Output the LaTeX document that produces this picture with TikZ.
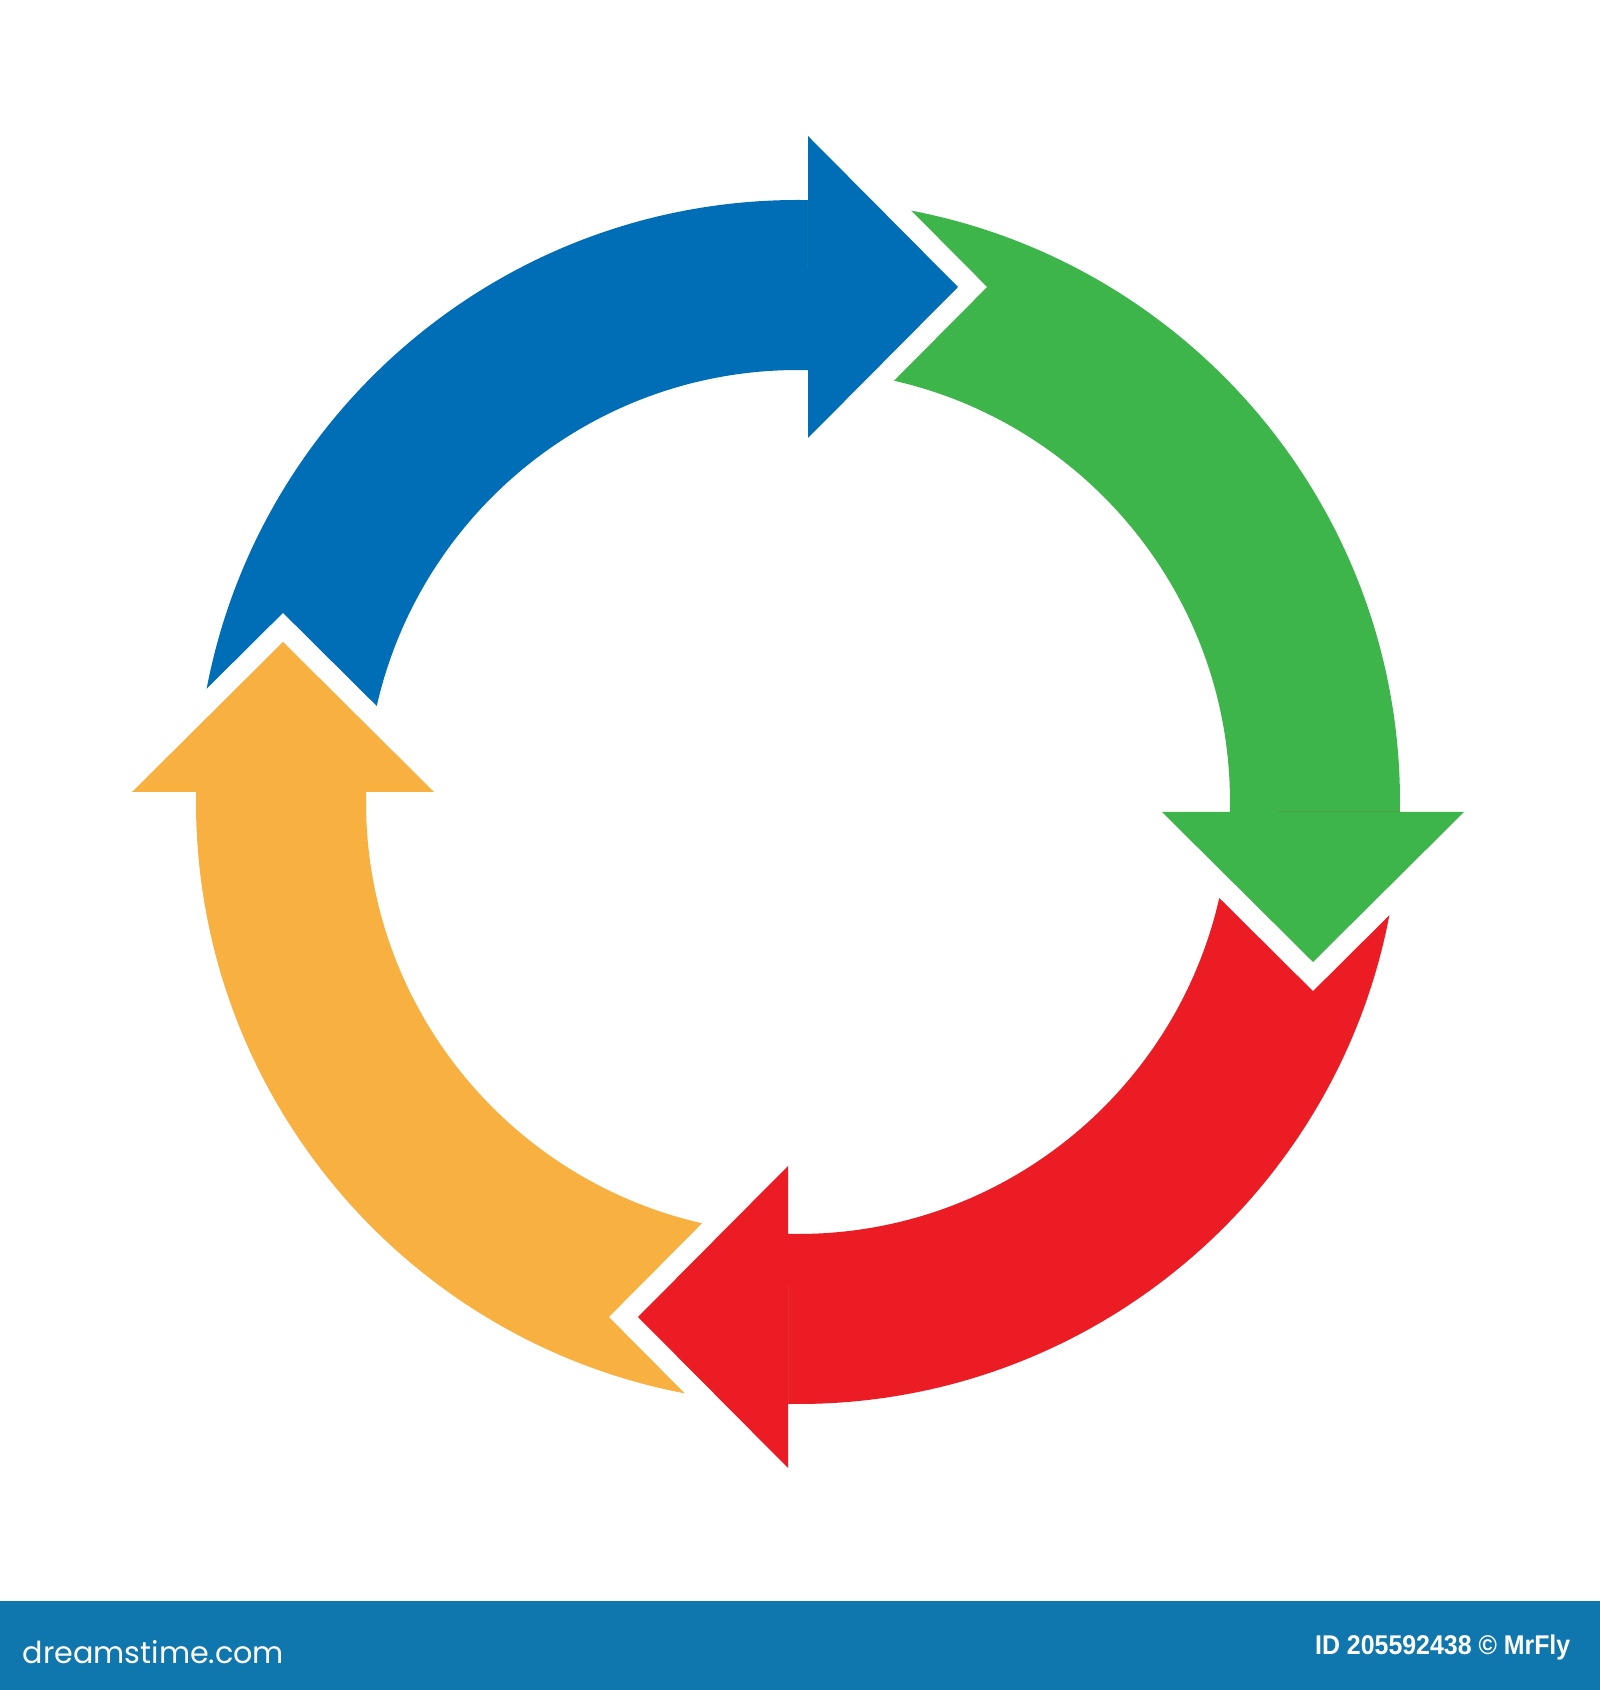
\documentclass[tikz,border=0pt]{standalone}
\usepackage{fontspec}
\newfontfamily\logofont{Poppins}
\newfontfamily\idfont[FakeStretch=0.92]{Liberation Sans}
\definecolor{arrowblue}{HTML}{006DB7}
\definecolor{arrowgreen}{HTML}{3DB54A}
\definecolor{arrowred}{HTML}{EC1C24}
\definecolor{arrowyellow}{HTML}{F8B040}
\definecolor{barblue}{HTML}{0F76AE}

\begin{document}
\begin{tikzpicture}[x=0.01cm,y=0.01cm,
    gap/.style={draw=white,line width=0.41cm,line join=miter},
    bartext/.style={white,inner sep=0pt}]
    \useasboundingbox (0,0) rectangle (1600,1690);
    \fill[white] (0,0) rectangle (1600,1690);

    \begin{scope}[shift={(798,888)}]
        \foreach \a/\c in {0/arrowblue,-90/arrowgreen,-180/arrowred,-270/arrowyellow}{
            \fill[\c,rotate=\a] (179.05:602) arc[start angle=179.05,end angle=89.05,radius=602]
                -- (88.67:432) arc[start angle=88.67,end angle=178.67,radius=432] -- cycle;
        }
        \foreach \a/\c in {0/arrowblue,-90/arrowgreen,-180/arrowred,-270/arrowyellow}{
            \draw[gap,rotate=\a] (10,666) -- (160,515) -- (10,364);
            \fill[\c,rotate=\a] (10,666) -- (160,515) -- (10,364) -- cycle;
        }
    \end{scope}

    \fill[barblue] (0,0) rectangle (1600,89);
    \node[bartext,anchor=base west,font=\logofont\fontsize{8.6}{10}\selectfont] (site) at (22,27) {dreamstime.com};
    \node[bartext,anchor=base east,font=\idfont\bfseries\fontsize{7.7}{9}\selectfont] (imgid) at (1571,35) {ID 205592438 © MrFly};
\end{tikzpicture}
\end{document}
